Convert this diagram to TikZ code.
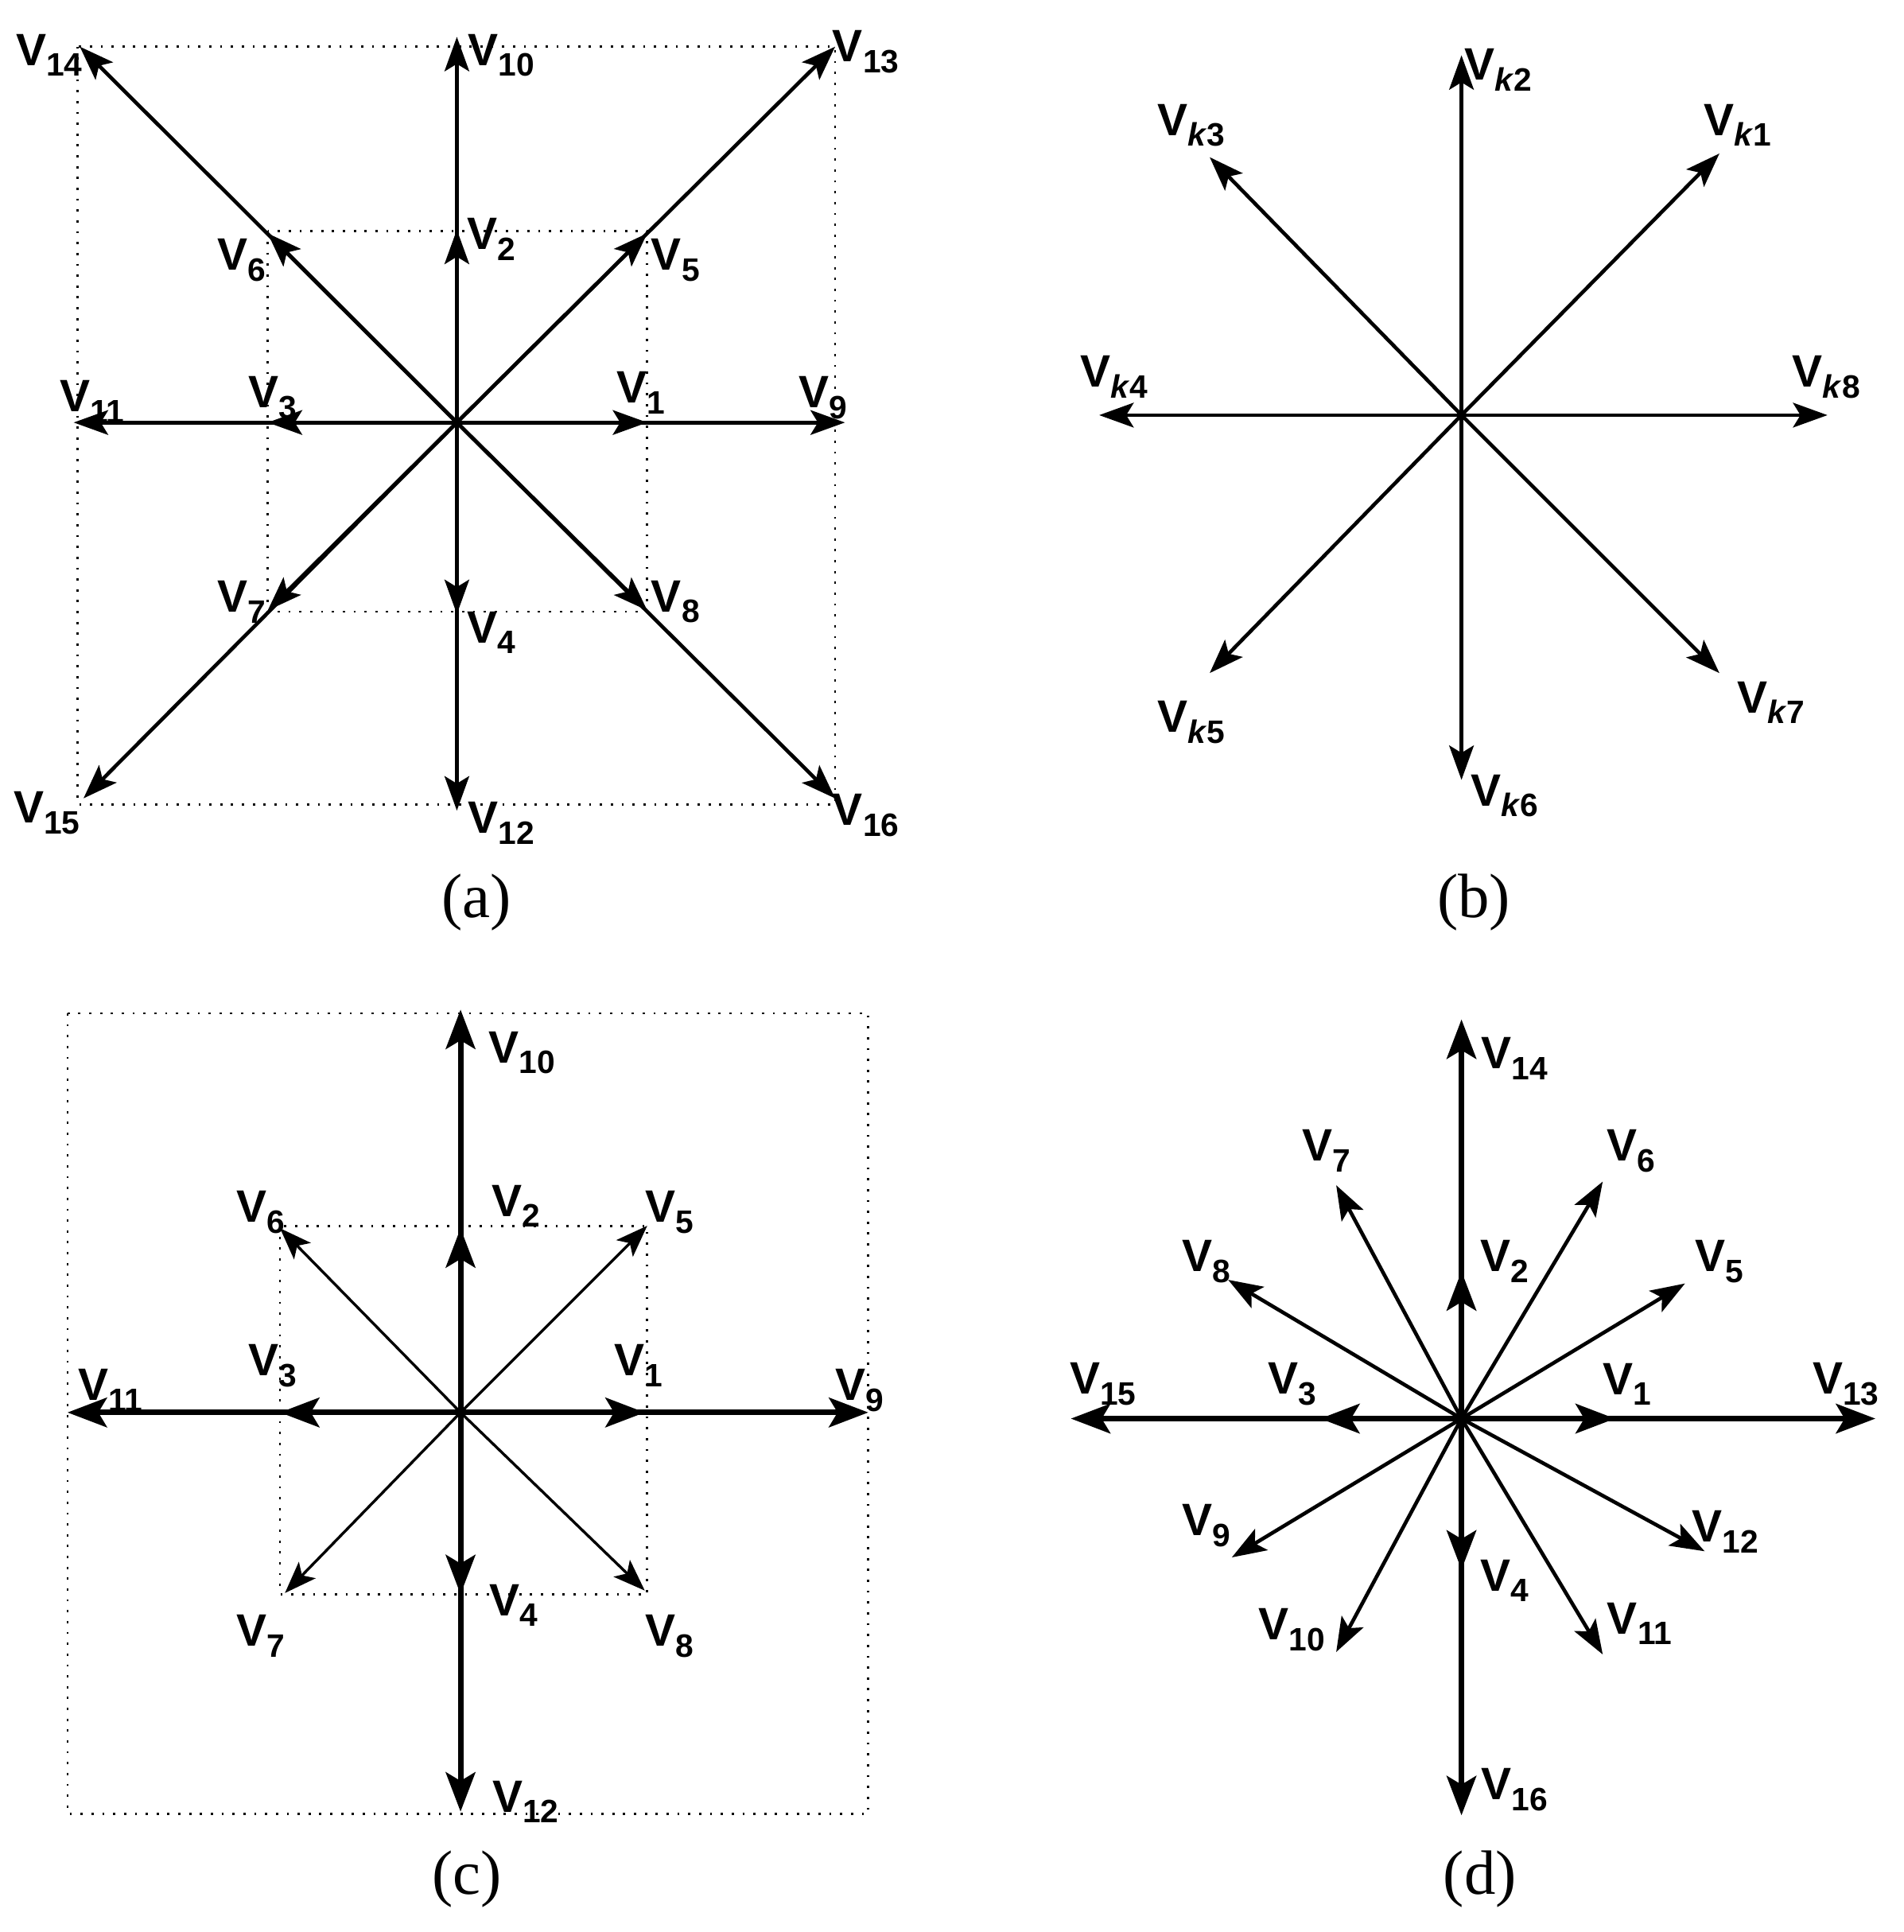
\documentclass[tikz,border=0pt]{standalone}
\usepackage{fontspec}
\setmainfont{Liberation Sans}
\newfontfamily\capfont{Liberation Serif}
\usetikzlibrary{arrows.meta}
\newcommand{\vl}[1]{\bfseries V\raisebox{-0.45ex}{\fontsize{7.5}{8}\selectfont\bfseries #1}}
\begin{document}
\begin{tikzpicture}[x=0.01cm,y=-0.01cm,
  arr/.style={line width=0.03cm,-{Stealth[length=0.28cm,width=0.2cm,inset=0.06cm]}},
  arrb/.style={line width=0.045cm,-{Stealth[length=0.32cm,width=0.24cm,inset=0.07cm]}},
  arrt/.style={line width=0.022cm,-{Stealth[length=0.26cm,width=0.19cm,inset=0.06cm]}},
  dots/.style={dotted,line width=0.018cm},
  lb/.style={font=\fontsize{10.5}{12}\selectfont,inner sep=0pt},
  captxt/.style={font=\capfont\fontsize{14.5}{16}\selectfont,inner sep=0pt}]
\useasboundingbox (0,0) rectangle (1550,1573);
% ---------- (a)
\coordinate (ca) at (372,344);
\draw[dots] (218,188) rectangle (527,498);
\draw[dots] (63,38) rectangle (680,655);
\foreach \n/\x/\y in {a1/527/344,a9/688/344,a3/218/344,a11/60/344,a2/372/187,a10/372/30,a4/372/500,a12/372/660,a5/527/190,a13/680/38,a6/218/190,a14/65/38,a7/218/497,a15/68/650,a8/527/497,a16/680/650}
  {\coordinate (\n) at (\x,\y);}
\foreach \n in {a9,a11,a10,a12,a13,a14,a15,a16,a1,a2,a3,a4,a5,a6,a7,a8} \draw[arr] (ca) -- (\n);
\foreach \t/\x/\y in {14/40/45,10/408/45,13/705/42,6/197/212,2/400/195,5/550/212,11/75/327,3/222/324,1/522/320,9/670/324,7/197/490,4/400/515,8/550/490,15/38/662,12/408/670,16/705/664}
  \node[lb] (la\t) at (\x,\y) {\vl{\t}};
\node[captxt] (capa) at (388,735) {(a)};
% ---------- (b)
\coordinate (cb) at (1190,338);
\foreach \n/\x/\y in {b2/1190/45,b1/1400/125,b3/985/128,b4/895/338,b8/1488/338,b5/985/548,b6/1190/635,b7/1400/548}
  {\coordinate (\n) at (\x,\y); \draw[arr] (cb) -- (\n);}
\foreach \t/\x/\y in {2/1220/57,1/1415/102,3/970/102,4/907/307,8/1487/307,5/970/588,6/1225/648,7/1442/572}
  \node[lb] (lb\t) at (\x,\y) {\vl{\textit{k}\t}};
\node[captxt] (capb) at (1200,735) {(b)};
% ---------- (c)
\coordinate (cc) at (375,1150);
\draw[dots] (228,998) rectangle (527,1298);
\draw[dots] (55,825) rectangle (707,1477);
\foreach \n/\x/\y in {c10/375/822,c12/375/1475,c11/55/1150,c9/707/1150,c1/525/1150,c3/228/1150,c2/375/1000,c4/375/1298}
  {\coordinate (\n) at (\x,\y); \draw[arrb] (cc) -- (\n);}
\foreach \n/\x/\y in {c5/527/998,c6/228/1000,c7/232/1297,c8/525/1295}
  {\coordinate (\n) at (\x,\y); \draw[arrt] (cc) -- (\n);}
\foreach \t/\x/\y in {10/425/857,6/212/987,2/420/982,5/545/987,11/90/1132,3/222/1112,1/520/1112,9/700/1132,7/212/1332,4/418/1307,8/545/1332,12/428/1467}
  \node[lb] (lc\t) at (\x,\y) {\vl{\t}};
\node[captxt] (capc) at (380,1530) {(c)};
% ---------- (d)
\coordinate (cd) at (1190,1155);
\foreach \n/\x/\y in {d14/1190/830,d16/1190/1478,d15/872/1155,d13/1527/1155,d2/1190/1035,d4/1190/1278,d1/1315/1155,d3/1075/1155}
  {\coordinate (\n) at (\x,\y); \draw[arrb] (cd) -- (\n);}
\foreach \n/\x/\y in {d6/1305/962,d7/1088/965,d5/1372/1045,d8/1000/1042,d9/1003/1268,d10/1088/1345,d11/1305/1347,d12/1388/1263}
  {\coordinate (\n) at (\x,\y); \draw[arr] (cd) -- (\n);}
\foreach \t/\x/\y in {14/1233/862,16/1233/1457,15/898/1127,13/1503/1127,2/1225/1027,4/1225/1287,1/1325/1127,3/1052/1127,6/1328/937,7/1080/937,5/1400/1027,8/982/1027,9/982/1242,10/1052/1327,11/1335/1322,12/1405/1247}
  \node[lb] (ld\t) at (\x,\y) {\vl{\t}};
\node[captxt] (capd) at (1205,1530) {(d)};
\end{tikzpicture}
\end{document}
